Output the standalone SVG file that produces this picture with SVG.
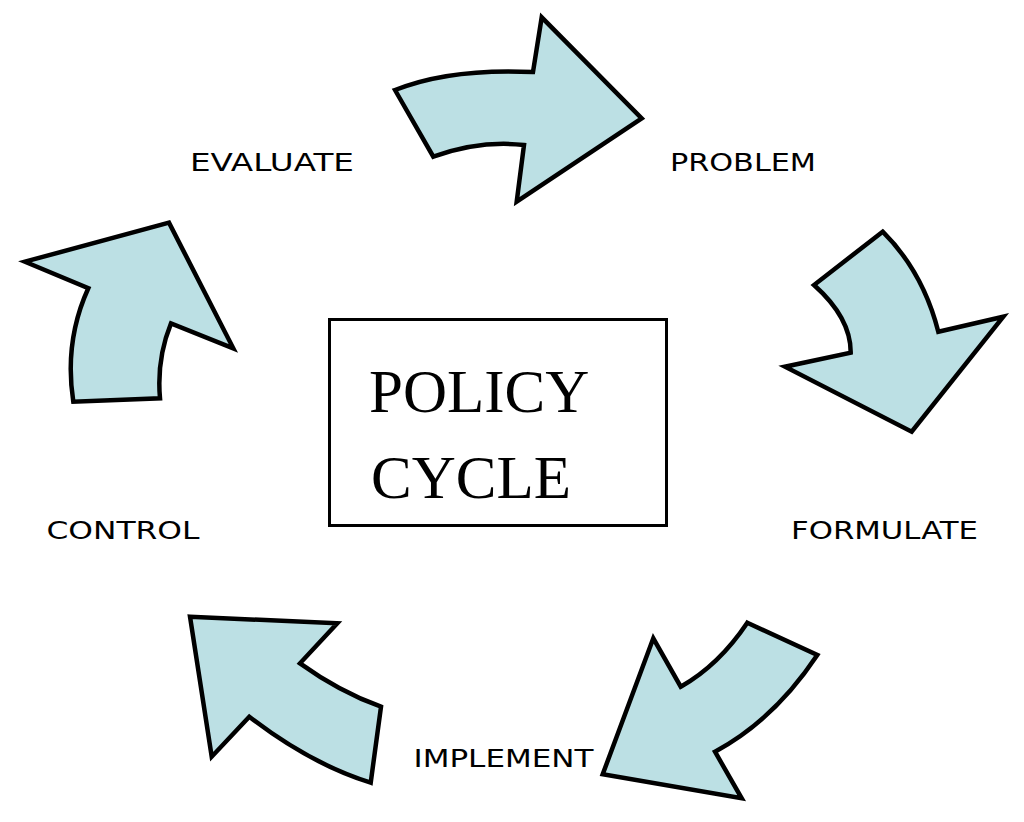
<svg xmlns="http://www.w3.org/2000/svg" width="1024" height="822" viewBox="0 0 1024 822">
<style>
.arrow{fill:#bce0e4;stroke:#000;stroke-width:4.5;stroke-linejoin:miter;stroke-miterlimit:10}
.lbl{font-family:"DejaVu Sans","Liberation Sans",sans-serif;font-size:25px;fill:#000}
.title{font-family:"Liberation Serif","Times New Roman",serif;font-size:61px;fill:#000}
</style>
<rect width="1024" height="822" fill="#fff"/>
<g id="connectors">
<path id="arrow-top" class="arrow" d="M395,90 Q450,68 533,72 L541.7,17.3 L641.7,118.3 L516.7,201.7 L524,145 Q480,140 433.3,156.7 Z"/>
<path id="arrow-right" class="arrow" d="M882.7,231.7 Q923,271.7 938.3,331.7 L1003.3,316.7 L911.7,431.7 L785,366.7 L850.7,352.7 Q851,318 814,285 Z"/>
<path id="arrow-bottom-right" class="arrow" d="M747.3,622.7 L817.3,655 Q774,720 715,751.7 L741.7,798.3 L602.7,774.3 L653.3,638.3 L680.7,686.7 Q719,665 747.3,622.7 Z"/>
<path id="arrow-bottom-left" class="arrow" d="M190,616.7 L337.3,623.3 L300,663.3 Q339.5,691.7 381,706.7 L370.7,782.7 Q310,763.7 249.3,716.7 L211.7,756.7 Z"/>
<path id="arrow-left" class="arrow" d="M25,261.7 L169,222.7 L233.3,348.3 L171,323.3 Q156.5,359 160,398.3 L73.3,401.7 Q64,341.6 88.3,288.3 Z"/>
</g>
<g id="center">
<rect x="329.5" y="319.5" width="337" height="206" fill="#fff" stroke="#000" stroke-width="3"/>
<text class="title" x="369" y="411.5">POLICY</text>
<text class="title" x="371" y="497.5">CYCLE</text>
</g>
<g id="problem"><text class="lbl" x="670" y="170.5" textLength="146" lengthAdjust="spacingAndGlyphs">PROBLEM</text></g>
<g id="formulate"><text class="lbl" x="791" y="538.5" textLength="187" lengthAdjust="spacingAndGlyphs">FORMULATE</text></g>
<g id="implement"><text class="lbl" x="413.5" y="766.5" textLength="180" lengthAdjust="spacingAndGlyphs">IMPLEMENT</text></g>
<g id="control"><text class="lbl" x="46.5" y="538.5" textLength="153" lengthAdjust="spacingAndGlyphs">CONTROL</text></g>
<g id="evaluate"><text class="lbl" x="190" y="170.5" textLength="164" lengthAdjust="spacingAndGlyphs">EVALUATE</text></g>
</svg>
